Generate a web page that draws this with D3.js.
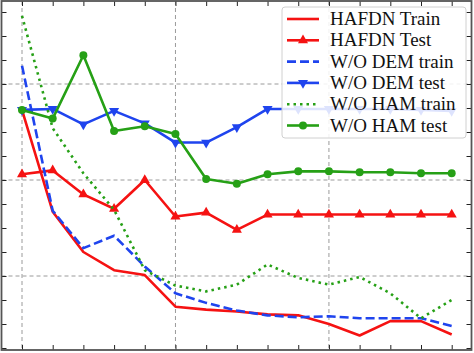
<!DOCTYPE html>
<html>
<head>
<meta charset="utf-8">
<script src="https://cdn.jsdelivr.net/npm/d3@7"></script>
<style>
  body { margin: 0; background: #fff; }
  svg { display: block; }
  .grid line { stroke: #9a9a9a; stroke-width: 1; stroke-dasharray: 4,3; }
  .tick line { stroke: #222; stroke-width: 1; }
  .domain { display: none; }
</style>
</head>
<body>
<div id="chart"></div>
<script>
// Epoch index (one point per tick)
const epochs = d3.range(0, 15);

// Series values (axis labels are cropped out in the reference, so units are relative)
const hafdnTrain = [2.73, 1.67, 1.25, 1.06, 1.01, 0.68, 0.65, 0.63, 0.60, 0.59, 0.50, 0.38, 0.53, 0.53, 0.39];
const hafdnTest  = [2.06, 2.10, 1.85, 1.70, 2.00, 1.62, 1.66, 1.48, 1.64, 1.64, 1.64, 1.64, 1.64, 1.64, 1.64];
const demTrain   = [3.19, 1.68, 1.29, 1.42, 1.10, 0.82, 0.72, 0.64, 0.59, 0.57, 0.58, 0.56, 0.56, 0.56, 0.48];
const demTest    = [2.73, 2.74, 2.58, 2.72, 2.59, 2.39, 2.39, 2.55, 2.74, 2.74, 2.74, 2.74, 2.74, 2.73, 2.72];
const hamTrain   = [3.71, 2.54, 2.07, 1.69, 1.06, 0.90, 0.84, 0.91, 1.12, 0.98, 0.91, 0.99, 0.82, 0.56, 0.75];
const hamTest    = [2.73, 2.64, 3.30, 2.51, 2.56, 2.48, 2.01, 1.96, 2.06, 2.09, 2.09, 2.08, 2.08, 2.07, 2.07];

const legendLabels = ["HAFDN Train", "HAFDN Test", "W/O DEM train", "W/O DEM test", "W/O HAM train", "W/O HAM test"];

// Chart area (the reference is cropped tight to the axes frame)
const W = 474, H = 353;
const plot = { left: 1.5, right: 471.5, top: 1, bottom: 350 };

const svg = d3.select("#chart")
    .append("svg")
    .attr("width", W)
    .attr("height", H);

// Scales
const x = d3.scaleLinear()
    .domain([0, 14])
    .range([22, 451.7]);

const y = d3.scaleLinear()
    .domain([1, 3])
    .range([276, 84]);

svg.append("clipPath").attr("id", "clip")
    .append("rect")
    .attr("x", plot.left).attr("y", plot.top)
    .attr("width", plot.right - plot.left)
    .attr("height", plot.bottom - plot.top);

// Grid lines
const grid = svg.append("g").attr("class", "grid");
grid.selectAll(".gx").data([0, 5, 10]).join("line")
    .attr("x1", d => x(d)).attr("x2", d => x(d))
    .attr("y1", plot.top).attr("y2", plot.bottom);
grid.selectAll(".gy").data([1, 2, 3]).join("line")
    .attr("x1", plot.left).attr("x2", plot.right)
    .attr("y1", d => y(d)).attr("y2", d => y(d));

// Inward ticks on all four sides, no labels
const xTicks = epochs;
const yTicks = d3.range(0.25, 3.8, 0.25);

svg.append("g")
    .attr("transform", `translate(0,${plot.bottom})`)
    .call(d3.axisBottom(x).tickValues(xTicks).tickSize(-5).tickFormat(""));
svg.append("g")
    .attr("transform", `translate(0,${plot.top})`)
    .call(d3.axisTop(x).tickValues(xTicks).tickSize(-5).tickFormat(""));
svg.append("g")
    .attr("transform", `translate(${plot.left},0)`)
    .call(d3.axisLeft(y).tickValues(yTicks).tickSize(-5).tickFormat(""));
svg.append("g")
    .attr("transform", `translate(${plot.right},0)`)
    .call(d3.axisRight(y).tickValues(yTicks).tickSize(-5).tickFormat(""));

// Series definitions
const series = [
    { values: hafdnTrain, color: "#f51212", dash: null,    marker: null },
    { values: hafdnTest,  color: "#f51212", dash: null,    marker: "triangle" },
    { values: demTrain,   color: "#1f44ee", dash: "9,4",   marker: null },
    { values: demTest,    color: "#1f44ee", dash: null,    marker: "triangleDown" },
    { values: hamTrain,   color: "#26a016", dash: "2.5,4", marker: null },
    { values: hamTest,    color: "#26a016", dash: null,    marker: "circle" }
];

const line = d3.line()
    .x((d, i) => x(epochs[i]))
    .y(d => y(d));

const symbolFor = m => {
    if (m === "circle") return d3.symbol(d3.symbolCircle, 50)();
    return d3.symbol(d3.symbolTriangle, 44)();
};

const marks = svg.append("g").attr("clip-path", "url(#clip)");

series.forEach(s => {
    marks.append("path")
        .datum(s.values)
        .attr("d", line)
        .attr("fill", "none")
        .attr("stroke", s.color)
        .attr("stroke-width", 2.6)
        .attr("stroke-linejoin", "round")
        .attr("stroke-dasharray", s.dash);

    if (s.marker) {
        marks.selectAll(null)
            .data(s.values)
            .join("path")
            .attr("d", symbolFor(s.marker))
            .attr("transform", (d, i) =>
                `translate(${x(epochs[i])},${y(d)})` + (s.marker === "triangleDown" ? " rotate(180)" : ""))
            .attr("fill", s.color);
    }
});

// Frame
svg.append("rect")
    .attr("x", plot.left).attr("y", plot.top)
    .attr("width", plot.right - plot.left)
    .attr("height", plot.bottom - plot.top)
    .attr("fill", "none")
    .attr("stroke", "#555")
    .attr("stroke-width", 1.8);

// Legend
const legend = svg.append("g");
legend.append("rect")
    .attr("x", 282).attr("y", 7)
    .attr("width", 184).attr("height", 131)
    .attr("rx", 3)
    .attr("fill", "#fff").attr("fill-opacity", 0.85)
    .attr("stroke", "#d0d0d0").attr("stroke-width", 1);

legendLabels.forEach((label, i) => {
    const s = series[i];
    const cy = 19 + i * 21.3;
    legend.append("line")
        .attr("x1", 287).attr("x2", 319)
        .attr("y1", cy).attr("y2", cy)
        .attr("stroke", s.color)
        .attr("stroke-width", 2.6)
        .attr("stroke-dasharray", s.dash);
    if (s.marker) {
        legend.append("path")
            .attr("d", symbolFor(s.marker))
            .attr("transform", `translate(303,${cy})` + (s.marker === "triangleDown" ? " rotate(180)" : ""))
            .attr("fill", s.color);
    }
    legend.append("text")
        .attr("x", 330)
        .attr("y", cy + 6)
        .style("font-family", "'Liberation Serif', 'Times New Roman', serif")
        .style("font-size", "19px")
        .attr("fill", "#111")
        .text(label);
});
</script>
</body>
</html>
